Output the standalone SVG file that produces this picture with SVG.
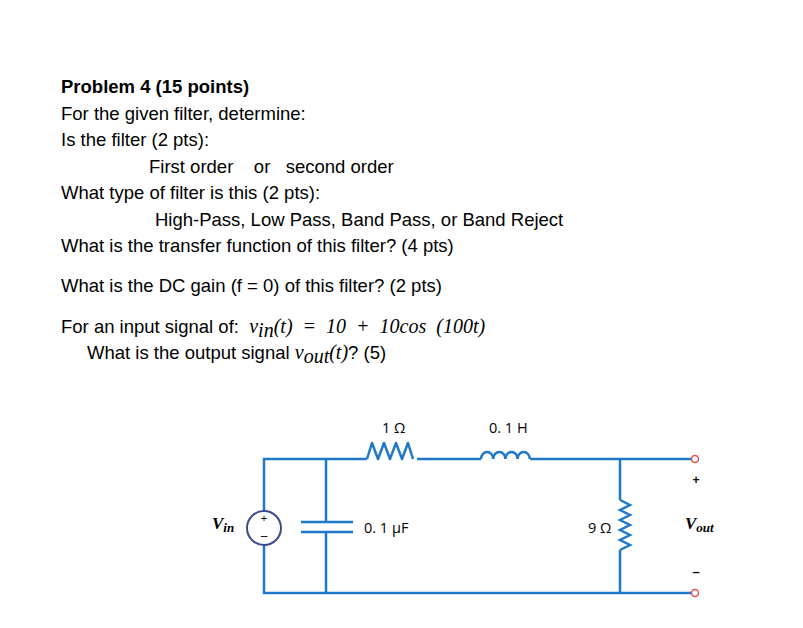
<svg xmlns="http://www.w3.org/2000/svg" width="803" height="628" viewBox="0 0 803 628">
<style>
.t{font-family:"Liberation Sans",Arial,sans-serif;font-size:18.5px;fill:#000;white-space:pre}
.m{font-family:"Liberation Serif",serif;font-style:italic;font-size:20px;white-space:pre}
.w{fill:none;stroke:#1f78c8;stroke-width:2.5}
.l{font-family:"Open Sans",sans-serif;font-size:14.5px;fill:#000}
.v{font-family:"Liberation Serif",serif;font-weight:bold;font-style:italic;font-size:17px}
</style>
<rect width="803" height="628" fill="#fff"/>
<g id="text">
<text class="t" x="61" y="93" font-weight="bold">Problem 4 (15 points)</text>
<text class="t" x="61" y="120">For the given filter, determine:</text>
<text class="t" x="61" y="146">Is the filter (2 pts):</text>
<text class="t" x="149" y="173">First order    or   second order</text>
<text class="t" x="61" y="199">What type of filter is this (2 pts):</text>
<text class="t" x="155" y="226">High-Pass, Low Pass, Band Pass, or Band Reject</text>
<text class="t" x="61" y="252">What is the transfer function of this filter? (4 pts)</text>
<text class="t" x="61" y="292">What is the DC gain (f = 0) of this filter? (2 pts)</text>
<text class="t" x="61" y="333">For an input signal of:  <tspan class="m">v</tspan><tspan class="m" font-size="15" dy="4">in</tspan><tspan class="m" font-style="normal" dy="-4">(</tspan><tspan class="m">t</tspan><tspan class="m" font-style="normal">)  =  10  +  10</tspan><tspan class="m">cos </tspan><tspan class="m" font-style="normal"> (100</tspan><tspan class="m">t</tspan><tspan class="m" font-style="normal">)</tspan></text>
<text class="t" x="87" y="359">What is the output signal <tspan class="m">v</tspan><tspan class="m" font-size="15" dy="4">out</tspan><tspan class="m" font-style="normal" dy="-4">(</tspan><tspan class="m">t</tspan><tspan class="m" font-style="normal">)</tspan>? (5)</text>
</g>
<g id="connectors">
<path class="w" d="M264,511 V459 H367 M417,459 H481 M530,459 H692 M264,545 V593 H692 M326,459 V522 M326,532 V593 M620,459 V500 M620,550 V593"/>
</g>
<g id="R1"><path class="w" stroke-linejoin="round" d="M367,459 l5,-16 l6,16 l6,-16 l6,16 l6,-16 l6,16 l6,-16 l5,16"/><text class="l" x="382" y="433">1 Ω</text></g>
<g id="L1"><path class="w" d="M481,459 a6.1,7 0 0 1 12.2,0 a6.1,7 0 0 1 12.2,0 a6.1,7 0 0 1 12.2,0 a6.1,7 0 0 1 12.2,0"/><text class="l" x="489" y="433">0. 1 H</text></g>
<g id="C1"><path class="w" d="M301,522 H353 M301,532 H353"/><text class="l" x="364" y="533">0. 1 μF</text></g>
<g id="R2"><path class="w" d="M620,500 l10,5 l-10,5 l10,5 l-10,5 l10,5 l-10,5 l10,5 l-10,5 l10,5 l-10,5"/><text class="l" x="588" y="533">9 Ω</text></g>
<g id="Vin"><circle cx="264" cy="528" r="17" fill="#fff" stroke="#3a4a8a" stroke-width="2"/><text x="264" y="522" text-anchor="middle" font-family="Liberation Sans,sans-serif" font-size="11">+</text><text x="264" y="540" text-anchor="middle" font-family="Liberation Sans,sans-serif" font-size="12">–</text><text class="v" x="212" y="529">V<tspan font-size="13" dy="3">in</tspan></text></g>
<g id="out"><circle cx="695" cy="459" r="3.5" fill="#fff" stroke="#e05050" stroke-width="1.5"/><circle cx="695" cy="593" r="3.5" fill="#fff" stroke="#e05050" stroke-width="1.5"/><text x="696" y="484" text-anchor="middle" font-family="Liberation Sans,sans-serif" font-size="12" font-weight="bold">+</text><text x="696" y="576" text-anchor="middle" font-family="Liberation Sans,sans-serif" font-size="13" font-weight="bold">–</text><text class="v" x="685" y="529">V<tspan font-size="13" dy="3">out</tspan></text></g>
</svg>
